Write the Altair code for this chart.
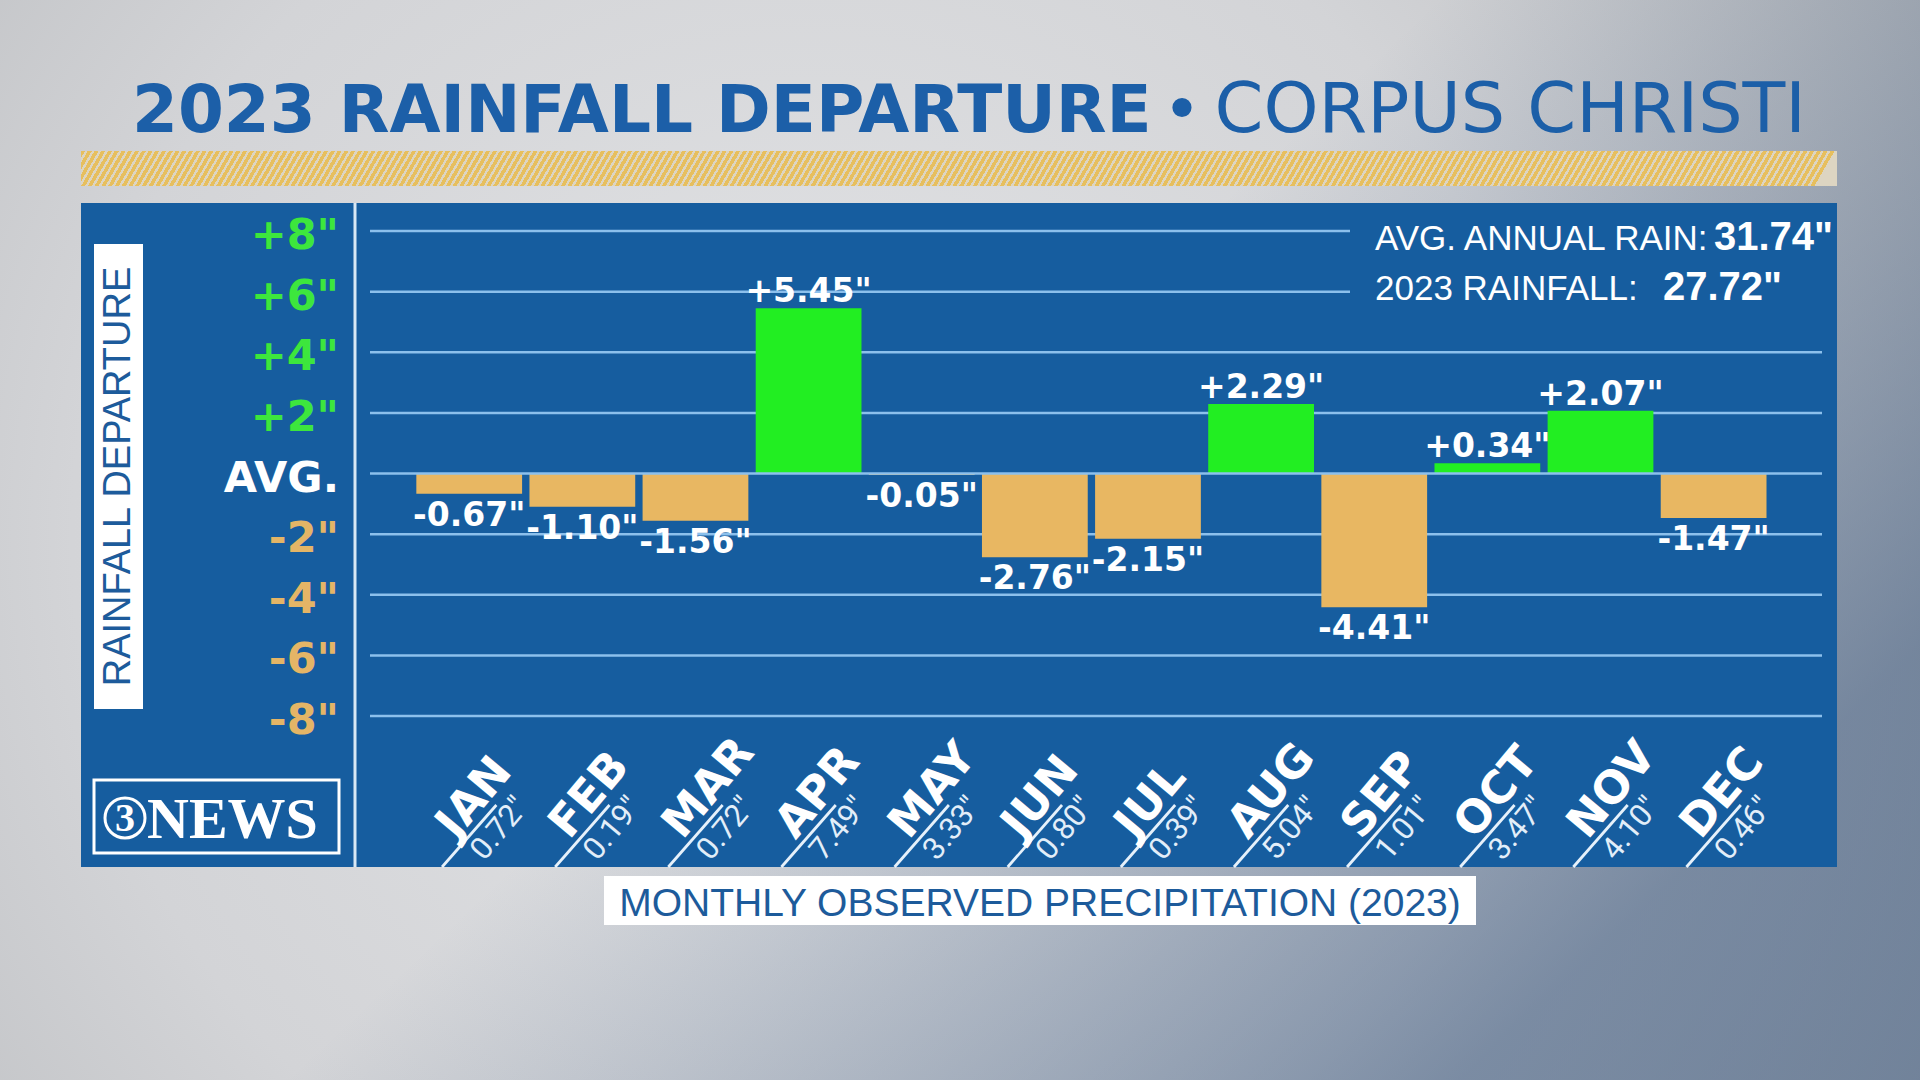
import altair as alt
import pandas as pd

# ---- data -------------------------------------------------------------
months = ["JAN", "FEB", "MAR", "APR", "MAY", "JUN",
          "JUL", "AUG", "SEP", "OCT", "NOV", "DEC"]
departure = [-0.67, -1.10, -1.56, 5.45, -0.05, -2.76,
             -2.15, 2.29, -4.41, 0.34, 2.07, -1.47]
observed = [0.72, 0.19, 0.72, 7.49, 3.33, 0.80,
            0.39, 5.04, 1.01, 3.47, 4.10, 0.46]
tick_values = [8, 6, 4, 2, 0, -2, -4, -6, -8]
tick_labels = ['+8"', '+6"', '+4"', '+2"', 'AVG.', '-2"', '-4"', '-6"', '-8"']
avg_annual = 31.74
total_2023 = 27.72

df = pd.DataFrame({
    "month": months,
    "dep": departure,
    "obs": observed,
    "dep_label": [f'{v:+.2f}"' for v in departure],
    "obs_label": [f'{v:.2f}"' for v in observed],
})
ticks = pd.DataFrame({"tick": tick_values, "tick_label": tick_labels})
one = pd.DataFrame({"k": [0]})

# ---- layout / style ---------------------------------------------------
W, H = 1452, 485
PANEL = "#165d9f"
GRID = "#8cc0ec"
GREEN = "#22ee22"
TAN = "#e8b762"
TITLE_BLUE = "#1c5fa8"
BOX_BLUE = "#1d5b9b"

xs = alt.X("month:N", sort=months, axis=None,
           scale=alt.Scale(type="band", paddingInner=0.065,
                           paddingOuter=0.45, align=0.455))
yscale = alt.Scale(domain=[-8, 8], nice=False, zero=False)


def rect(x1, x2, y1, y2, **kw):
    return alt.Chart(one).mark_rect(**kw).encode(
        x=alt.value(x1), x2=alt.value(x2), y=alt.value(y1), y2=alt.value(y2))


def label(x, y, text, **kw):
    return alt.Chart(one).mark_text(text=text, **kw).encode(
        x=alt.value(x), y=alt.value(y))


# page background: soft grey with a blue-grey tint toward the right
bg = rect(-370, 1550, -231, 849, fill={
    "gradient": "radial",
    "x1": 0.42, "y1": 0.5, "r1": 0.0,
    "x2": 0.42, "y2": 0.5, "r2": 0.85,
    "stops": [
        {"offset": 0.0, "color": "#e3e4e6"},
        {"offset": 0.45, "color": "#d3d4d7"},
        {"offset": 0.8, "color": "#b5b7ba"},
        {"offset": 1.0, "color": "#a3a7ad"},
    ]})
tint = rect(-370, 1550, -231, 849, fill={
    "gradient": "linear", "x1": 0, "y1": 0, "x2": 1, "y2": 0.6,
    "stops": [
        {"offset": 0.0, "color": "rgba(60,90,130,0)"},
        {"offset": 0.55, "color": "rgba(60,90,130,0)"},
        {"offset": 1.0, "color": "rgba(55,85,125,0.55)"},
    ]})

# hatched gold band under the headline
n_stripes = 260
stops = []
for i in range(n_stripes):
    a, b, c = i / n_stripes, (i + 0.6) / n_stripes, (i + 1) / n_stripes
    stops += [{"offset": a, "color": "#e7bf5e"}, {"offset": b, "color": "#e7bf5e"},
              {"offset": b, "color": "#ddd5c2"}, {"offset": c, "color": "#ddd5c2"}]
band = rect(-289, 1467, -80, -45, fill={
    "gradient": "linear", "x1": 0, "y1": 0, "x2": 1, "y2": 0.0115,
    "stops": stops})

title_a = label(-238, -99, "2023 RAINFALL DEPARTURE", align="left",
                baseline="alphabetic", font="DejaVu Sans", fontWeight="bold",
                fontSize=66, color=TITLE_BLUE)
bullet = label(812, -99, "\u2022", align="center", baseline="alphabetic",
               font="DejaVu Sans", fontSize=66, color=TITLE_BLUE)
title_b = label(1436, -99, "CORPUS CHRISTI", align="right",
                baseline="alphabetic", font="DejaVu Sans", fontSize=70,
                color=TITLE_BLUE)

panel = rect(-289, 1467, -28, 636, fill=PANEL)
divider = alt.Chart(one).mark_rule(color="#d8e8f5", strokeWidth=3).encode(
    x=alt.value(-15), y=alt.value(-28), y2=alt.value(636))

# vertical axis caption box
ybox = rect(-276, -227, 13, 478, fill="white")
ytitle = label(-251.5, 245.5, "RAINFALL DEPARTURE", angle=270, align="center",
               baseline="middle", font="Liberation Sans", fontSize=38,
               color=BOX_BLUE)

# station logo
logo_box = rect(-276, -31, 549, 622, fill=PANEL, stroke="white", strokeWidth=3)
logo_ring = alt.Chart(one).mark_point(shape="circle", size=1600, filled=False,
                                      stroke="white", strokeWidth=3, opacity=1).encode(
    x=alt.value(-245), y=alt.value(587))
logo_3 = label(-245, 588, "3", align="center", baseline="middle",
               font="Liberation Serif", fontWeight="bold", fontSize=40,
               color="white")
logo_news = label(-223, 607, "NEWS", align="left", baseline="alphabetic",
                  font="Liberation Serif", fontWeight="bold", fontSize=58,
                  color="white")

# gridlines
grid = alt.Chart(ticks).transform_filter("datum.tick != 0").mark_rule(
    color=GRID, strokeWidth=2.5).encode(
    y=alt.Y("tick:Q", scale=yscale, axis=None),
    x=alt.value(0), x2=alt.value(W))
zero_line = alt.Chart(ticks).transform_filter("datum.tick == 0").mark_rule(
    color=GRID, strokeWidth=2.5).encode(
    y=alt.Y("tick:Q", scale=yscale, axis=None),
    x=alt.value(0), x2=alt.value(W))

tick_color = {
    "condition": [
        {"test": "datum.tick > 0", "value": "#3de63d"},
        {"test": "datum.tick == 0", "value": "white"},
    ],
    "value": "#e4b566",
}
tick_text = alt.Chart(ticks).mark_text(
    align="right", baseline="middle", dy=5, font="DejaVu Sans",
    fontWeight="bold", fontSize=43).encode(
    x=alt.value(-31),
    y=alt.Y("tick:Q", scale=yscale, axis=None),
    text="tick_label:N",
    color=tick_color)

# annual totals in the top-right corner
legend_cover = rect(980, W, -14, 80, fill=PANEL)
leg1 = label(1005, 19, "AVG. ANNUAL RAIN:", align="left", baseline="alphabetic",
             font="Liberation Sans", fontSize=35, color="white")
leg1v = label(1344, 19, f'{avg_annual:.2f}"', align="left", baseline="alphabetic",
              font="Liberation Sans", fontWeight="bold", fontSize=40,
              color="white")
leg2 = label(1005, 69, "2023 RAINFALL:", align="left", baseline="alphabetic",
             font="Liberation Sans", fontSize=35, color="white")
leg2v = label(1293, 69, f'{total_2023:.2f}"', align="left", baseline="alphabetic",
              font="Liberation Sans", fontWeight="bold", fontSize=40,
              color="white")

# departure bars and value labels
bars = alt.Chart(df).mark_bar().encode(
    x=xs,
    y=alt.Y("dep:Q", scale=yscale, axis=None),
    y2=alt.datum(0),
    color=alt.condition("datum.dep > 0", alt.value(GREEN), alt.value(TAN)))

pos_text = alt.Chart(df).transform_filter("datum.dep > 0").mark_text(
    baseline="alphabetic", dy=-6, font="DejaVu Sans", fontWeight="bold",
    fontSize=33, color="white").encode(
    x=xs, y=alt.Y("dep:Q", scale=yscale, axis=None), text="dep_label:N")
neg_text = alt.Chart(df).transform_filter("datum.dep <= 0").mark_text(
    baseline="top", dy=6, font="DejaVu Sans", fontWeight="bold",
    fontSize=33, color="white").encode(
    x=xs, y=alt.Y("dep:Q", scale=yscale, axis=None), text="dep_label:N")

# slanted month labels with monthly totals underneath
slash = alt.Chart(df).mark_point(shape="M-0.877,1L0.877,-1", size=3844,
                                 filled=False, stroke="#e6f1fb", strokeWidth=2.8,
                                 opacity=1).encode(x=xs, y=alt.value(605))
month_text = alt.Chart(df).mark_text(
    angle=310, align="left", baseline="alphabetic", dx=-12, dy=-7,
    font="DejaVu Sans", fontWeight="bold", fontSize=45, color="white").encode(
    x=xs, y=alt.value(605), text="month:N")
obs_text = alt.Chart(df).mark_text(
    angle=310, align="left", baseline="alphabetic", dx=-10, dy=28,
    font="Roboto", fontWeight=400, fontSize=31, color="#e2eef9").encode(
    x=xs, y=alt.value(605), text="obs_label:N")

xbox = rect(234, 1106, 645, 694, fill="white")
xtitle = label(670, 685, "MONTHLY OBSERVED PRECIPITATION (2023)", align="center",
               baseline="alphabetic", font="Liberation Sans", fontSize=39,
               color=BOX_BLUE)

chart = alt.layer(
    bg, tint, band, title_a, bullet, title_b,
    panel, divider, ybox, ytitle, logo_box, logo_ring, logo_3, logo_news,
    grid, legend_cover, leg1, leg1v, leg2, leg2v,
    bars, zero_line, pos_text, neg_text, tick_text,
    slash, month_text, obs_text, xbox, xtitle,
).properties(
    width=W, height=H,
    autosize=alt.AutoSizeParams(type="none"),
    padding={"left": 370, "top": 231, "right": 98, "bottom": 364},
    background="#c8cacd",
).configure_view(stroke=None)

chart.save("out.html", embed_options={"renderer": "svg", "actions": False})
